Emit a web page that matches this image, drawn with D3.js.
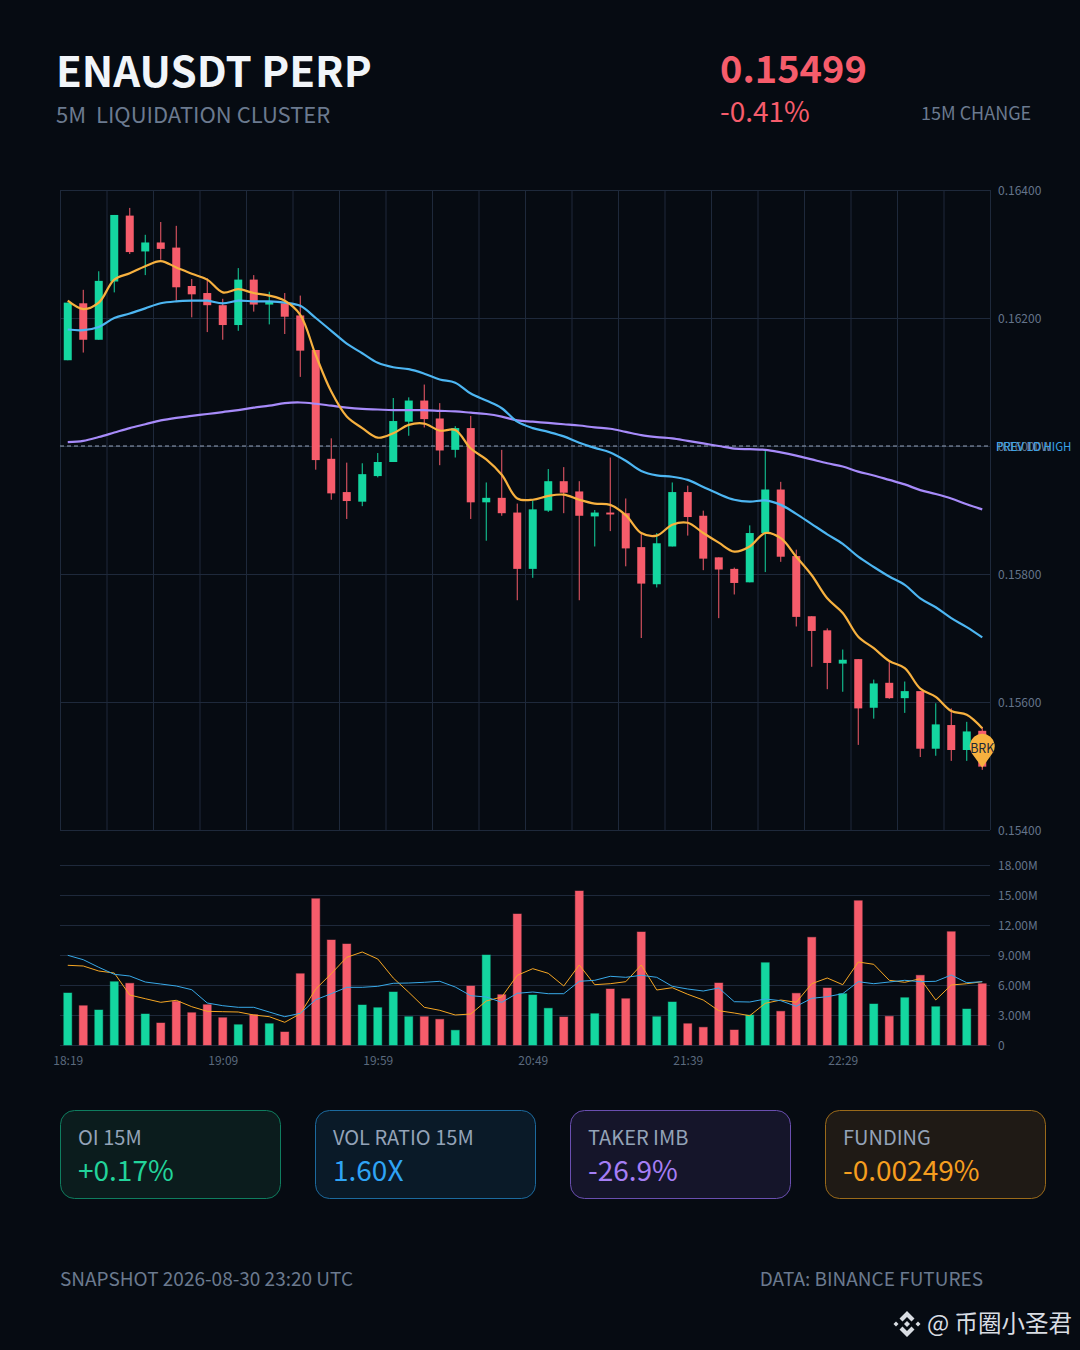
<!DOCTYPE html>
<html>
<head>
<meta charset="utf-8">
<script src="https://cdn.jsdelivr.net/npm/d3@7"></script>
<style>
html, body { margin: 0; padding: 0; background: #060b12; }
text { font-family: "Noto Sans CJK SC", "Noto Sans", sans-serif; white-space: pre; }
</style>
</head>
<body>
<div id="chart"></div>
<script>
// candle values in units of 0.00001
let opens = [16134,16223,16166,16257,16360,16304,16318,16310,16250,16239,16220,16189,16260,16221,16223,16204,16150,15980,15928,15913,
  15953,15975,16038,16071,16043,15994,16028,15912,15919,15896,15808,15899,15945,15929,15890,15896,15895,15842,15784,15843,
  15928,15891,15826,15808,15787,15864,15932,15828,15734,15712,15660,15667,15591,15630,15606,15617,15527,15564,15525,15555];
let highs = [16224,16244,16273,16361,16372,16330,16350,16344,16261,16262,16230,16278,16267,16241,16239,16235,16150,16012,15974,15973,
  15989,16075,16076,16096,16067,16031,16047,15943,15994,15910,15915,15964,15967,15945,15900,15982,15918,15864,15864,15943,
  15938,15899,15826,15810,15876,15994,15944,15838,15734,15715,15682,15667,15635,15663,15632,15617,15598,15590,15569,15561];
let lows = [16134,16146,16166,16240,16300,16267,16291,16227,16201,16178,16166,16180,16210,16190,16175,16108,15963,15916,15886,15906,
  15951,15975,16016,16029,15970,15982,15886,15852,15891,15759,15794,15897,15895,15759,15843,15867,15812,15700,15779,15843,
  15860,15806,15731,15768,15787,15803,15819,15718,15655,15620,15616,15533,15574,15605,15583,15514,15516,15508,15508,15494];
let closes = [16224,16166,16258,16361,16303,16318,16308,16248,16237,16220,16189,16260,16221,16225,16202,16149,15978,15926,15914,15956,
  15975,16039,16071,16042,15993,16028,15912,15919,15895,15808,15901,15945,15927,15891,15896,15893,15840,15785,15848,15928,
  15889,15824,15807,15786,15864,15932,15827,15733,15711,15661,15666,15590,15629,15606,15617,15527,15565,15525,15554,15499];

let ema7 = [16227,16214,16224,16260,16270,16281,16289,16279,16269,16260,16240,16245,16239,16235,16227,16205,16142,16085,16046,16028,
  16013,16020,16033,16035,16024,16025,15996,15979,15955,15918,15916,15922,15924,15916,15910,15908,15892,15864,15860,15877,
  15880,15864,15849,15835,15843,15864,15856,15827,15798,15762,15739,15702,15684,15664,15653,15621,15608,15586,15580,15559];
let ema25 = [16182,16181,16186,16200,16207,16215,16223,16226,16227,16227,16223,16227,16226,16226,16224,16219,16200,16180,16160,16145,
  16130,16123,16120,16113,16104,16099,16082,16071,16059,16038,16028,16022,16015,16005,15997,15990,15977,15961,15954,15952,
  15947,15936,15925,15916,15913,15915,15908,15894,15878,15862,15847,15827,15811,15796,15783,15762,15748,15731,15717,15701];
let ema99 = [16006,16008,16014,16021,16028,16034,16040,16044,16047,16050,16053,16056,16060,16063,16067,16068,16066,16063,16060,16058,
  16057,16056,16056,16056,16055,16054,16052,16050,16046,16040,16038,16036,16034,16032,16029,16027,16022,16017,16014,16012,
  16008,16004,16000,15996,15995,15994,15990,15985,15979,15973,15968,15960,15954,15947,15940,15931,15925,15918,15909,15901];

// volume in millions
let volumes = [5.2,3.93,3.5,6.33,6.17,3.1,2.2,4.37,3.23,4.03,2.73,2.03,3.03,2.13,1.3,7.13,14.63,10.5,10.1,4.0,
  3.73,5.3,2.83,2.83,2.57,1.47,5.9,9.0,5.03,13.1,5.0,3.67,2.8,15.4,3.13,5.6,4.63,11.3,2.83,4.3,
  2.13,1.77,6.2,1.5,3.0,8.23,3.37,5.17,10.77,5.7,5.13,14.43,4.1,2.87,4.73,6.97,3.83,11.33,3.6,6.13];
let volFast = [7.97,7.9,7.4,7.2,5.0,4.63,4.27,4.47,3.83,3.37,3.33,3.3,3.0,2.83,2.27,3.13,5.6,7.13,8.77,9.3,
  8.6,6.7,5.27,3.77,3.47,3.0,3.1,4.4,4.8,6.97,7.63,7.17,5.9,8.0,6.03,6.13,6.33,8.0,5.5,5.73,
  5.07,4.5,3.43,3.2,2.93,4.17,4.5,4.27,6.13,6.7,6.03,8.3,8.07,6.47,6.27,6.63,4.5,6.0,6.13,6.33];
let volSlow = [8.97,8.53,7.77,7.07,6.9,6.3,6.1,5.9,5.53,4.2,3.93,3.77,3.77,3.3,2.83,3.17,4.53,5.13,5.77,5.77,
  5.87,6.17,6.2,6.27,6.37,5.8,4.93,4.8,4.27,5.17,5.3,5.13,5.13,6.37,6.47,6.87,6.77,6.97,6.77,5.87,
  5.6,5.4,5.7,4.33,4.3,4.6,4.43,3.87,4.67,4.83,5.13,6.33,6.13,6.3,6.47,6.33,6.37,7.0,6.23,6.33];

let priceTicks = [0.154, 0.156, 0.158, 0.16, 0.162, 0.164];
let volTicks = [0, 3, 6, 9, 12, 15, 18];
let timeIdx = [0, 10, 20, 30, 40, 50];
let timeLabels = ["18:19", "19:09", "19:59", "20:49", "21:39", "22:29"];
let levelPrice = 0.16;
let levelLabels = ["PREV LOW", "PREV 1D HIGH"];

let cardLabels = ["OI 15M", "VOL RATIO 15M", "TAKER IMB", "FUNDING"];
let cardValues = ["+0.17%", "1.60X", "-26.9%", "-0.00249%"];

let green = "#14d6a0", red = "#f65c6b";

let svg = d3.select("#chart")
            .append("svg")
            .attr("width", 1080)
            .attr("height", 1350)
            .style("display", "block");

svg.append("rect").attr("width", 1080).attr("height", 1350).attr("fill", "#060b12");

// header
function label(x, y, txt, size, color, weight, anchor) {
    return svg.append("text")
        .attr("x", x).attr("y", y)
        .attr("font-size", size)
        .attr("fill", color)
        .attr("font-weight", weight || 400)
        .attr("text-anchor", anchor || "start")
        .text(txt);
}
label(56, 87, "ENAUSDT PERP", 42, "#f1f5f9", 700);
label(56, 123, "5M  LIQUIDATION CLUSTER", 22, "#6b7a8f");
label(720, 83, "0.15499", 38, red, 700);
label(720, 122, "-0.41%", 28, red);
label(921, 120, "15M CHANGE", 18, "#6b7a8f");

// scales
let x = d3.scaleLinear().domain([-0.5, 59.5]).range([60, 990]);
let y = d3.scaleLinear().domain([0.154, 0.164]).range([830, 190]);
let yVol = d3.scaleLinear().domain([0, 18]).range([1045, 865]);
let px = v => y(v / 100000);

// grid lines and axes
let xGridVals = d3.range(-0.5, 60, 3);
let gridX = svg.append("g")
    .attr("transform", "translate(0,830)")
    .call(d3.axisBottom(x).tickValues(xGridVals).tickSize(-640).tickFormat(""));
gridX.select(".domain").remove();
gridX.selectAll("line").attr("stroke", "#1e293b");

let axisY = svg.append("g")
    .attr("transform", "translate(990,0)")
    .call(d3.axisRight(y).tickValues(priceTicks).tickSize(-930).tickPadding(8).tickFormat(d3.format(".5f")));
axisY.select(".domain").remove();
axisY.selectAll("line").attr("stroke", "#1e293b");
axisY.selectAll("text").attr("fill", "#64748b").attr("font-size", 12).attr("dy", "0.34em")
    .style("font-family", '"Noto Sans CJK SC"');

let axisV = svg.append("g")
    .attr("transform", "translate(990,0)")
    .call(d3.axisRight(yVol).tickValues(volTicks).tickSize(-930).tickPadding(8)
        .tickFormat(d => d === 0 ? "0" : d3.format(".2f")(d) + "M"));
axisV.select(".domain").remove();
axisV.selectAll("line").attr("stroke", "#1e293b");
axisV.selectAll("text").attr("fill", "#64748b").attr("font-size", 12).attr("dy", "0.34em")
    .style("font-family", '"Noto Sans CJK SC"');

let axisT = svg.append("g")
    .attr("transform", "translate(0,1045)")
    .call(d3.axisBottom(x).tickValues(timeIdx).tickSize(0).tickPadding(11)
        .tickFormat(d => timeLabels[timeIdx.indexOf(d)]));
axisT.select(".domain").remove();
axisT.selectAll("text").attr("fill", "#5b6a7e").attr("font-size", 12)
    .style("font-family", '"Noto Sans CJK SC"');

// dashed level
svg.append("line")
    .attr("x1", x.range()[0]).attr("x2", x.range()[1])
    .attr("y1", y(levelPrice)).attr("y2", y(levelPrice))
    .attr("stroke", "#94a3b8")
    .attr("stroke-dasharray", "4 3");
levelLabels.forEach((t, i) => {
    label(996, y(levelPrice) + 5, t, 11.5, i === 1 ? "#38a3e8" : "#7b8798");
});

// candles
let idx = d3.range(opens.length);
let isUp = i => closes[i] >= opens[i];
let colorOf = i => isUp(i) ? green : red;

let candles = svg.append("g").attr("id", "candles");
candles.selectAll("line")
    .data(idx)
    .enter()
    .append("line")
    .attr("x1", i => x(i)).attr("x2", i => x(i))
    .attr("y1", i => px(highs[i])).attr("y2", i => px(lows[i]))
    .attr("stroke", colorOf)
    .attr("stroke-width", 1);
candles.selectAll("rect")
    .data(idx)
    .enter()
    .append("rect")
    .attr("x", i => x(i) - 4)
    .attr("width", 8)
    .attr("y", i => px(Math.max(opens[i], closes[i])))
    .attr("height", i => Math.max(1.5, Math.abs(px(opens[i]) - px(closes[i]))))
    .attr("fill", colorOf);

// moving averages
let smooth = d3.line().x((d, i) => x(i)).y(d => px(d)).curve(d3.curveCatmullRom.alpha(0.5));
[[ema99, "#a78bfa"], [ema25, "#4db6f2"], [ema7, "#f7b13f"]].forEach(s => {
    svg.append("path")
        .attr("d", smooth(s[0]))
        .attr("fill", "none")
        .attr("stroke", s[1])
        .attr("stroke-width", 2.2);
});

// BRK pin on the last candle
let pinX = x(59), pinY = px(closes[59]) + 1;
let pinPath = d3.path();
pinPath.moveTo(pinX, pinY);
pinPath.lineTo(pinX - 10.5, pinY - 14.5);
pinPath.arc(pinX, pinY - 21.5, 12.5, Math.PI * 0.82, Math.PI * 0.18);
pinPath.closePath();
svg.append("path").attr("d", pinPath.toString()).attr("fill", "#f7b13f");
svg.append("text")
    .attr("x", pinX).attr("y", pinY - 15)
    .attr("text-anchor", "middle")
    .attr("font-size", 12.5)
    .attr("fill", "#1f2937")
    .text("BRK");

// volume bars
svg.append("g").selectAll("rect")
    .data(idx)
    .enter()
    .append("rect")
    .attr("x", i => x(i) - 4)
    .attr("width", 8)
    .attr("y", i => yVol(volumes[i]))
    .attr("height", i => yVol(0) - yVol(volumes[i]))
    .attr("fill", colorOf)
    .attr("stroke", colorOf)
    .attr("stroke-opacity", 0.45)
    .attr("stroke-width", 1);

let volLine = d3.line().x((d, i) => x(i)).y(d => yVol(d));
[[volFast, "#f5a623"], [volSlow, "#38a9e8"]].forEach(s => {
    svg.append("path")
        .attr("d", volLine(s[0]))
        .attr("fill", "none")
        .attr("stroke", s[1])
        .attr("stroke-width", 1);
});

// metric cards
let cardX = d3.scalePoint().domain(cardLabels).range([60, 825]);
let cardFill = ["#0b1c1d", "#0a1a28", "#15152a", "#1f1a15"];
let cardStroke = ["#0f7d5f", "#1c6a9e", "#6a4fb0", "#9a6a1a"];
let cardText = ["#22d39a", "#2fa4f5", "#a57ef5", "#f59e1f"];
cardLabels.forEach((c, i) => {
    svg.append("rect")
        .attr("x", cardX(c) + 0.5).attr("y", 1110.5)
        .attr("width", 220).attr("height", 88)
        .attr("rx", 14)
        .attr("fill", cardFill[i])
        .attr("stroke", cardStroke[i]);
    label(cardX(c) + 18, 1145, c, 20, "#94a3b8");
    label(cardX(c) + 18, 1181, cardValues[i], 28, cardText[i]);
});

// footer
label(60, 1286, "SNAPSHOT 2026-08-30 23:20 UTC", 19, "#6b7a8f");
label(983, 1286, "DATA: BINANCE FUTURES", 19, "#6b7a8f", 400, "end");

// binance mark and handle
let logo = svg.append("g").attr("transform", "translate(907,1324)").attr("fill", "#d9dde3");
logo.append("path").attr("d", "M0,-13 L7.5,-5.5 L4.5,-2.5 L0,-7 L-4.5,-2.5 L-7.5,-5.5 Z");
logo.append("path").attr("d", "M0,13 L7.5,5.5 L4.5,2.5 L0,7 L-4.5,2.5 L-7.5,5.5 Z");
logo.append("path").attr("d", "M-13.5,0 L-11,-2.5 L-8.5,0 L-11,2.5 Z");
logo.append("path").attr("d", "M13.5,0 L11,-2.5 L8.5,0 L11,2.5 Z");
logo.append("path").attr("d", "M0,-3 L3,0 L0,3 L-3,0 Z");
label(927, 1332, "@ 币圈小圣君", 23.5, "#d9dde3");
</script>
</body>
</html>
